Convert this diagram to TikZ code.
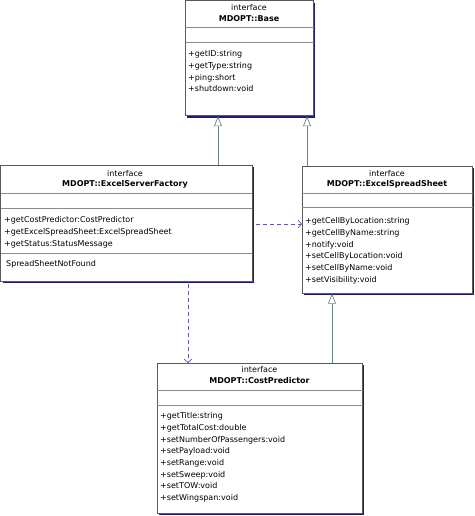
\documentclass[tikz,border=0pt]{standalone}
\usepackage{fontspec}
\setmainfont{DejaVu Sans}
\usepackage{xcolor}
\usetikzlibrary{positioning, arrows.meta, shadows, calc}

\definecolor{umlnavy}{HTML}{1C1C70}
\definecolor{umlborder}{HTML}{5A5A5A}
\definecolor{umlsep}{HTML}{8A8A8A}
\definecolor{umlgen}{HTML}{6A8484}
\definecolor{umldep}{HTML}{5A5AB0}

\begin{document}
\begin{tikzpicture}[
    x=1pt, y=-1pt,
    umlbox/.style={draw=umlborder, fill=white, line width=0.7pt, anchor=north west, inner sep=0pt,
        drop shadow={shadow xshift=1.8pt, shadow yshift=-1.8pt, fill=umlnavy, opacity=1}},
    stereo/.style={font=\fontsize{8}{9}\selectfont, inner sep=0pt},
    title/.style={font=\fontsize{8}{9}\selectfont\bfseries, inner sep=0pt},
    ops/.style={font=\fontsize{8}{11.7}\selectfont, align=left, anchor=north west, inner sep=0pt},
    sep/.style={draw=umlsep, line width=0.7pt},
    inherit/.style={draw=umlgen, line width=0.7pt, -{Triangle[open, length=10pt, width=8pt]}},
    depends/.style={draw=umldep, line width=0.7pt, dashed, dash pattern=on 4pt off 3pt,
        -{Straight Barb[length=3.5pt, width=8pt]}}
]
\useasboundingbox (0,0) rectangle (474,516);

% Base interface
\node[umlbox, minimum width=128pt, minimum height=115pt] (base) at (185,0.5) {};
\node[stereo] (baseI) at (249,7.5) {interface};
\node[title] (baseT) at (249,18.5) {MDOPT::Base};
\draw[sep] (base.west |- 0,27) -- (base.east |- 0,27);
\draw[sep] (base.west |- 0,42) -- (base.east |- 0,42);
\node[ops] (baseOps) at (188,50.5) {+getID:string\\+getType:string\\+ping:short\\+shutdown:void};

% ExcelServerFactory interface
\node[umlbox, minimum width=251pt, minimum height=116pt] (esf) at (0.5,165) {};
\node[stereo] (esfI) at (125,173.5) {interface};
\node[title] (esfT) at (125,184.5) {MDOPT::ExcelServerFactory};
\draw[sep] (esf.west |- 0,193) -- (esf.east |- 0,193);
\draw[sep] (esf.west |- 0,208) -- (esf.east |- 0,208);
\node[ops] (esfOps) at (4,216.5) {+getCostPredictor:CostPredictor\\+getExcelSpreadSheet:ExcelSpreadSheet\\+getStatus:StatusMessage};
\draw[sep] (esf.west |- 0,253) -- (esf.east |- 0,253);
\node[ops] (esfExc) at (6,260.5) {SpreadSheetNotFound};

% ExcelSpreadSheet interface
\node[umlbox, minimum width=170pt, minimum height=127pt] (ess) at (302,166) {};
\node[stereo] (essI) at (387,173.5) {interface};
\node[title] (essT) at (387,184.5) {MDOPT::ExcelSpreadSheet};
\draw[sep] (ess.west |- 0,193) -- (ess.east |- 0,193);
\draw[sep] (ess.west |- 0,207) -- (ess.east |- 0,207);
\node[ops] (essOps) at (305,217.5) {+getCellByLocation:string\\+getCellByName:string\\+notify:void\\+setCellByLocation:void\\+setCellByName:void\\+setVisibility:void};

% CostPredictor interface
\node[umlbox, minimum width=205pt, minimum height=150pt] (cp) at (157,363) {};
\node[stereo] (cpI) at (259.5,369.5) {interface};
\node[title] (cpT) at (259.5,380.5) {MDOPT::CostPredictor};
\draw[sep] (cp.west |- 0,390) -- (cp.east |- 0,390);
\draw[sep] (cp.west |- 0,405) -- (cp.east |- 0,405);
\node[ops] (cpOps) at (160,412.5) {+getTitle:string\\+getTotalCost:double\\+setNumberOfPassengers:void\\+setPayload:void\\+setRange:void\\+setSweep:void\\+setTOW:void\\+setWingspan:void};

% Generalisations
\draw[inherit] (esf.north -| 218,0) -- (base.south -| 218,0);
\draw[inherit] (ess.north -| 307,0) -- (base.south -| 307,0);
\draw[inherit] (cp.north -| 332,0) -- (ess.south -| 332,0);

% Dependencies
\draw[depends] (esf.east |- 0,224) ++(4,0) -- (ess.west |- 0,224);
\draw[depends] (esf.south -| 188,0) ++(0,2) -- (cp.north -| 188,0);

\end{tikzpicture}
\end{document}
